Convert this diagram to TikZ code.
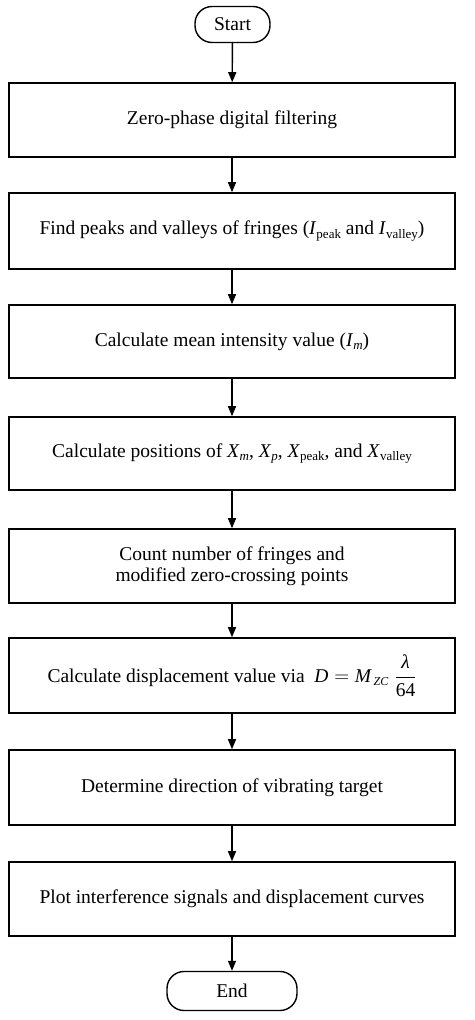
\documentclass[tikz,border=0pt]{standalone}
\usepackage{fontspec}
\setmainfont{Liberation Serif}
\usetikzlibrary{arrows.meta}
\newcommand\sbs[1]{\raisebox{-0.35ex}{\fontsize{13}{13}\selectfont #1}}
\begin{document}
\begin{tikzpicture}[x=1pt,y=1pt,
  proc/.style={draw, line width=1.6pt, minimum width=446pt, minimum height=74pt,
    inner sep=0pt, align=center, font=\fontsize{19.5}{21.5}\selectfont},
  term/.style={draw, line width=1.4pt, rounded corners=17pt, inner sep=0pt,
    font=\fontsize{19.5}{21.5}\selectfont},
  flow/.style={line width=1.4pt, -{Triangle[length=10pt,width=8pt]}}]
\useasboundingbox (0,0) rectangle (474,-1020);
\node[term, minimum width=75pt, minimum height=36pt] (start) at (232.5,-24.5) {Start};
\node[proc] (b1) at (232,-120) {Zero-phase digital filtering};
\node[proc, minimum height=76pt] (b2) at (232,-231) {Find peaks and valleys of fringes (\textit{I}\sbs{peak} and \textit{I}\sbs{valley})};
\node[proc, minimum height=73pt] (b3) at (232,-341.5) {Calculate mean intensity value (\textit{I}\sbs{\textit{m}})};
\node[proc, minimum height=73pt] (b4) at (232,-453.5) {Calculate positions of \textit{X}\sbs{\textit{m}}, \textit{X}\sbs{\textit{p}}, \textit{X}\sbs{peak}, and \textit{X}\sbs{valley}};
\node[proc] (b5) at (232,-566) {Count number of fringes and\\modified zero-crossing points};
\node[proc, minimum height=75pt] (b6) at (232,-675.5) {Calculate displacement value via\enspace $\mbox{\itshape D} = \mbox{\itshape M}_{\,\mbox{\fontsize{12}{12}\selectfont\itshape ZC}}\;\displaystyle\frac{\mbox{\itshape λ}}{\mbox{64}}$};
\node[proc, minimum height=75pt] (b7) at (232,-787.5) {Determine direction of vibrating target};
\node[proc] (b8) at (232,-899) {Plot interference signals and displacement curves};
\node[term, minimum width=130pt, minimum height=39pt] (end) at (232,-991) {End};
\draw[flow] (start) -- (b1);
\draw[flow] (b1) -- (b2);
\draw[flow] (b2) -- (b3);
\draw[flow] (b3) -- (b4);
\draw[flow] (b4) -- (b5);
\draw[flow] (b5) -- (b6);
\draw[flow] (b6) -- (b7);
\draw[flow] (b7) -- (b8);
\draw[flow] (b8) -- (end);
\end{tikzpicture}
\end{document}
